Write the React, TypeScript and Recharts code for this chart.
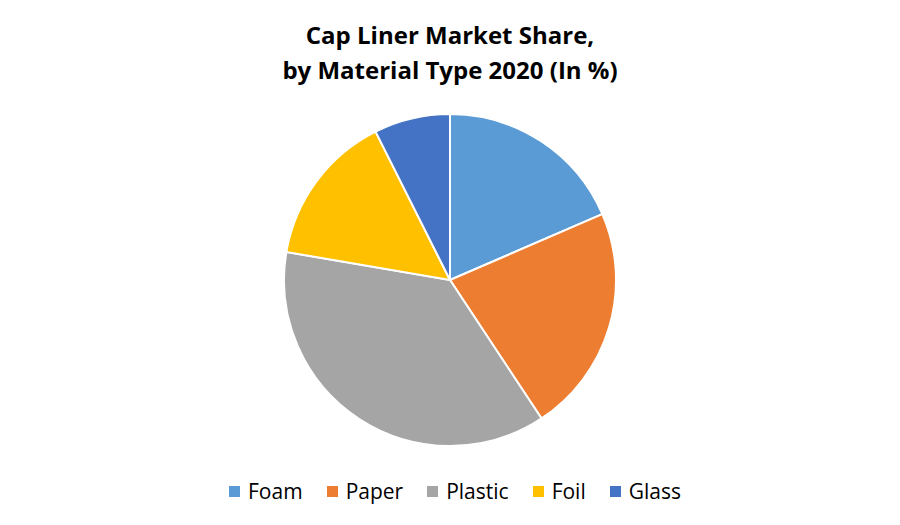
// Cap Liner — pizza de participação por material (2020), Recharts.
import { PieChart, Pie, Cell } from 'recharts';

const materials = ['Foam', 'Paper', 'Plastic', 'Foil', 'Glass'];
const shares = [18.5, 22.2, 37.0, 14.9, 7.4];
const colors = ['#5b9bd5', '#ed7d31', '#a5a5a5', '#ffc000', '#4472c4'];

const titleLines = ['Cap Liner Market Share,', 'by Material Type 2020 (In %)'];

const FONT = '"Open Sans", Lato, sans-serif';

export default function App() {
  const data = materials.map((name, i) => ({ name, value: shares[i] }));

  return (
    <div
      style={{
        position: 'absolute',
        left: 0,
        top: 0,
        width: 900,
        height: 525,
        background: '#fff',
        fontFamily: FONT,
      }}
    >
      {/* título em duas linhas, centralizado */}
      {titleLines.map((t, i) => (
        <div
          key={t}
          style={{
            position: 'absolute',
            left: 0,
            width: 900,
            top: 20 + i * 35,
            textAlign: 'center',
            fontSize: 24,
            fontWeight: 700,
            color: '#000',
            lineHeight: '30px',
          }}
        >
          {t}
        </div>
      ))}

      <div style={{ position: 'absolute', left: 0, top: 0 }}>
        <PieChart width={900} height={525} margin={{ top: 0, right: 0, bottom: 0, left: 0 }}>
          <Pie
            data={data}
            dataKey="value"
            nameKey="name"
            cx={450}
            cy={280}
            outerRadius={166}
            startAngle={90}
            endAngle={-270}
            stroke="#fff"
            strokeWidth={2}
            isAnimationActive={false}
          >
            {data.map((d, i) => (
              <Cell key={d.name} fill={colors[i]} />
            ))}
          </Pie>
        </PieChart>
      </div>

      {/* legenda manual — mais fácil de acertar espaçamento que o Legend padrão */}
      <div
        style={{
          position: 'absolute',
          left: 0,
          width: 890,
          paddingLeft: 10,
          top: 477,
          display: 'flex',
          justifyContent: 'center',
          alignItems: 'center',
          height: 28,
        }}
      >
        {materials.map((m, i) => (
          <span
            key={m}
            style={{
              display: 'inline-flex',
              alignItems: 'center',
              marginRight: i < materials.length - 1 ? 24 : 0,
            }}
          >
            <span
              style={{
                width: 11,
                height: 11,
                background: colors[i],
                marginRight: 8,
                display: 'inline-block',
              }}
            />
            <span style={{ fontSize: 21, color: '#000' }}>{m}</span>
          </span>
        ))}
      </div>
    </div>
  );
}
